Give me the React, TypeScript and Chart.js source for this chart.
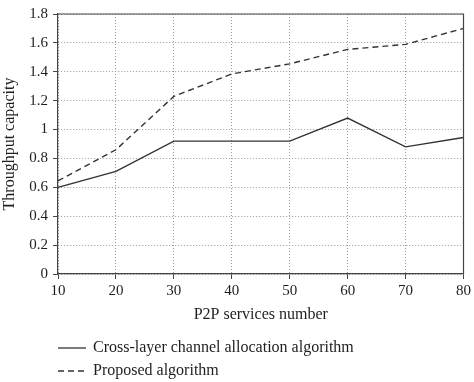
import React, { useEffect, useRef } from "react";
import { Chart, registerables } from "chart.js";

Chart.register(...registerables);

const xLabels = ["10", "20", "30", "40", "50", "60", "70", "80"];
const crossLayer = [0.6, 0.71, 0.92, 0.92, 0.92, 1.08, 0.88, 0.945];
const proposed = [0.645, 0.86, 1.23, 1.385, 1.455, 1.555, 1.59, 1.7];
const yTickLabels = ["0", "0.2", "0.4", "0.6", "0.8", "1", "1.2", "1.4", "1.6", "1.8"];
const seriesNames = ["Cross-layer channel allocation algorithm", "Proposed algorithm"];
const xTitle = "P2P services number";
const yTitle = "Throughput capacity";

const FONT = "'Liberation Serif', 'DejaVu Serif', serif";
const INK = "#1e1e1e";

const framePlugin = {
  id: "frameAndLegend",
  afterDraw(chart: any) {
    const { ctx, chartArea } = chart;
    ctx.save();
    ctx.strokeStyle = "#444";
    ctx.lineWidth = 1.2;
    ctx.setLineDash([]);
    ctx.beginPath();
    ctx.moveTo(chartArea.left, chartArea.top);
    ctx.lineTo(chartArea.right, chartArea.top);
    ctx.lineTo(chartArea.right, chartArea.bottom);
    ctx.stroke();

    // legend
    const items = [
      { name: seriesNames[0], dash: [] as number[], y: 348 },
      { name: seriesNames[1], dash: [6, 4], y: 371 },
    ];
    ctx.font = `16px ${FONT}`;
    ctx.textBaseline = "middle";
    ctx.fillStyle = INK;
    for (const it of items) {
      ctx.strokeStyle = "#333";
      ctx.lineWidth = 1.3;
      ctx.setLineDash(it.dash);
      ctx.beginPath();
      ctx.moveTo(58, it.y);
      ctx.lineTo(86, it.y);
      ctx.stroke();
      ctx.setLineDash([]);
      ctx.fillText(it.name, 93, it.y);
    }
    ctx.restore();
  },
};

export default function App() {
  const ref = useRef<HTMLCanvasElement>(null);
  useEffect(() => {
    if (!ref.current) return;
    const chart = new Chart(ref.current, {
      type: "line",
      data: {
        labels: xLabels,
        datasets: [
          {
            label: seriesNames[0],
            data: crossLayer,
            borderColor: "#333",
            borderWidth: 1.4,
            pointRadius: 0,
            tension: 0,
            fill: false,
          },
          {
            label: seriesNames[1],
            data: proposed,
            borderColor: "#333",
            borderWidth: 1.4,
            borderDash: [6, 4],
            pointRadius: 0,
            tension: 0,
            fill: false,
          },
        ],
      },
      options: {
        animation: false,
        responsive: false,
        maintainAspectRatio: false,
        layout: { padding: { left: 0, right: 8, top: 9, bottom: 0 } },
        plugins: {
          legend: { display: false },
          tooltip: { enabled: false },
        },
        scales: {
          x: {
            type: "category",
            offset: false,
            afterFit: (s: any) => {
              s.height = 108;
            },
            grid: {
              color: "#9a9a9a",
              lineWidth: 1,
              tickColor: "#444",
              tickLength: 5,
              tickBorderDash: [],
              drawTicks: true,
            },
            border: { display: true, color: "#444", width: 1.2, dash: [1, 2] },
            ticks: {
              color: INK,
              font: { family: FONT, size: 15 },
              padding: 3,
              maxRotation: 0,
              autoSkip: false,
            },
            title: {
              display: true,
              text: xTitle,
              color: INK,
              font: { family: FONT, size: 16 },
              padding: { top: 0, bottom: 58 },
            },
          },
          y: {
            min: 0,
            max: 1.8,
            afterFit: (s: any) => {
              s.width = 58;
            },
            ticks: {
              stepSize: 0.2,
              color: INK,
              font: { family: FONT, size: 15 },
              padding: 5,
              callback: (_v: any, i: number) => yTickLabels[i],
            },
            grid: {
              color: "#9a9a9a",
              lineWidth: 1,
              tickColor: "#444",
              tickLength: 5,
              tickBorderDash: [],
            },
            border: { display: true, color: "#444", width: 1.2, dash: [1, 2] },
            title: {
              display: true,
              text: yTitle,
              color: INK,
              font: { family: FONT, size: 16 },
              padding: { top: 0, bottom: 0 },
            },
          },
        },
      },
      plugins: [framePlugin],
    });
    return () => chart.destroy();
  }, []);
  return (
    <div style={{ position: "absolute", left: 0, top: 0, width: 474, height: 382, background: "#fff" }}>
      <canvas ref={ref} width={474} height={382} style={{ display: "block", width: 474, height: 382 }} />
    </div>
  );
}
